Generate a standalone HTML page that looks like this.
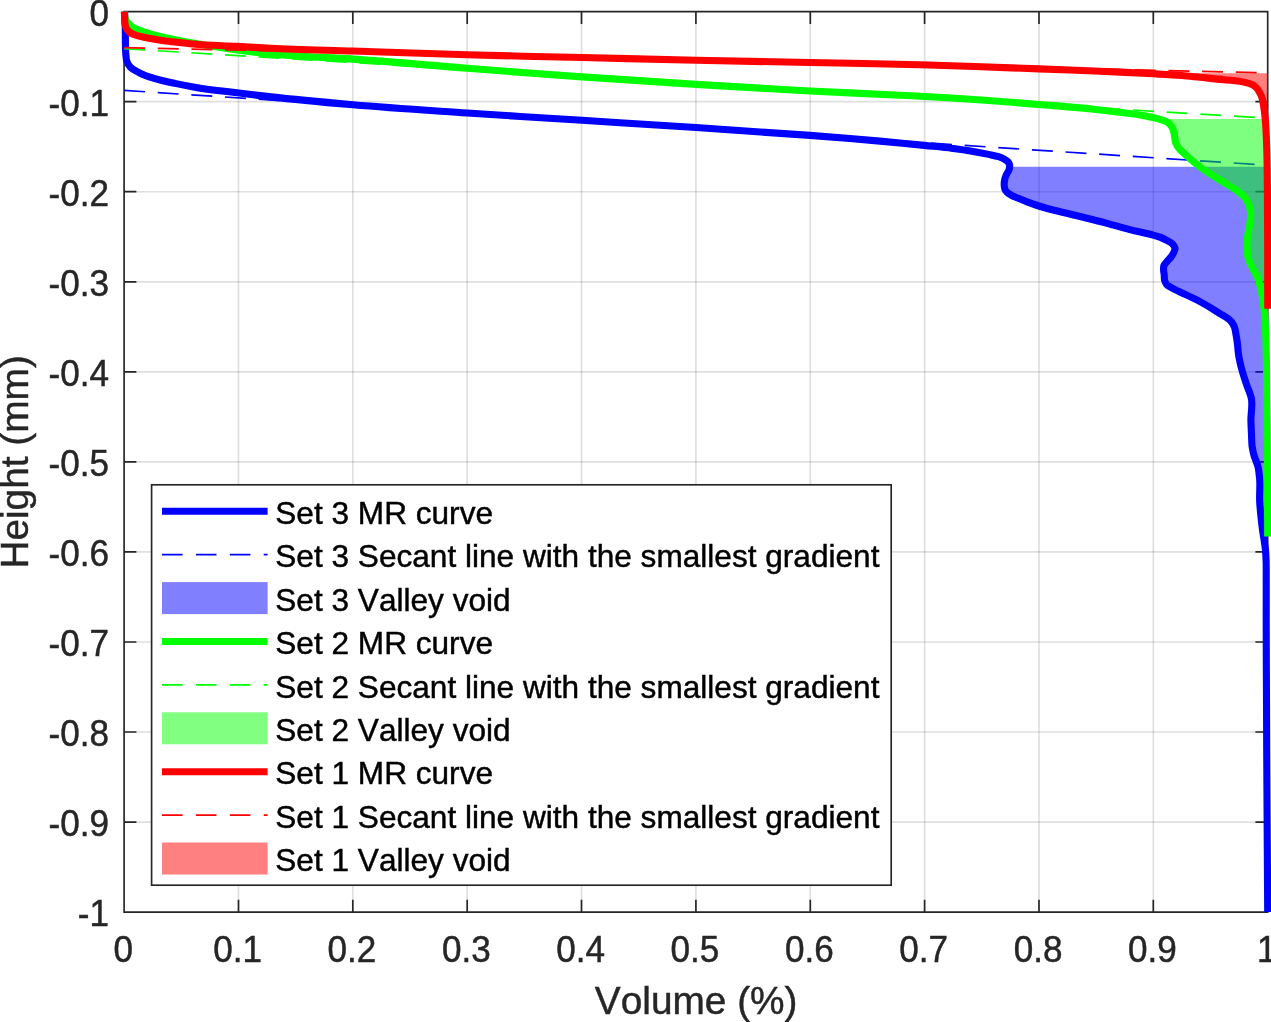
<!DOCTYPE html>
<html lang="en"><head><meta charset="utf-8"><title>MR curves</title>
<style>html,body{margin:0;padding:0;background:#fff}body{width:1271px;height:1022px;overflow:hidden}svg{display:block}text{font-family:"Liberation Sans",Arial,Helvetica,sans-serif;font-kerning:none;font-variant-ligatures:none}.t{font-size:35.1px;fill:#262626;stroke:#262626;stroke-width:.45px}.l{font-size:31.6px;fill:#000;stroke:#000;stroke-width:.45px}.a{font-size:38.8px;fill:#262626;stroke:#262626;stroke-width:.45px}</style></head><body>
<svg width="1271" height="1022" viewBox="0 0 1271 1022">
<rect width="1271" height="1022" fill="#fff"/>
<path d="M238.46 11.65V912.10M352.82 11.65V912.10M467.18 11.65V912.10M581.54 11.65V912.10M695.90 11.65V912.10M810.26 11.65V912.10M924.62 11.65V912.10M1038.98 11.65V912.10M1153.34 11.65V912.10" stroke="#262626" stroke-opacity="0.15" stroke-width="1.67" fill="none"/>
<path d="M124.10 101.70H1267.70M124.10 191.74H1267.70M124.10 281.79H1267.70M124.10 371.83H1267.70M124.10 461.88H1267.70M124.10 551.92H1267.70M124.10 641.97H1267.70M124.10 732.01H1267.70M124.10 822.05H1267.70" stroke="#262626" stroke-opacity="0.15" stroke-width="1.67" fill="none"/>
<path d="M124.1 11.7H1267.7V912.1H124.1ZM238.5 11.7v12.3M238.5 912.1v-12.3M124.1 101.7h12.3M1267.7 101.7h-12.3M352.8 11.7v12.3M352.8 912.1v-12.3M124.1 191.7h12.3M1267.7 191.7h-12.3M467.2 11.7v12.3M467.2 912.1v-12.3M124.1 281.8h12.3M1267.7 281.8h-12.3M581.5 11.7v12.3M581.5 912.1v-12.3M124.1 371.8h12.3M1267.7 371.8h-12.3M695.9 11.7v12.3M695.9 912.1v-12.3M124.1 461.9h12.3M1267.7 461.9h-12.3M810.3 11.7v12.3M810.3 912.1v-12.3M124.1 551.9h12.3M1267.7 551.9h-12.3M924.6 11.7v12.3M924.6 912.1v-12.3M124.1 642.0h12.3M1267.7 642.0h-12.3M1039.0 11.7v12.3M1039.0 912.1v-12.3M124.1 732.0h12.3M1267.7 732.0h-12.3M1153.3 11.7v12.3M1153.3 912.1v-12.3M124.1 822.1h12.3M1267.7 822.1h-12.3" stroke="#262626" stroke-width="1.67" fill="none" stroke-linejoin="miter"/>
<path d="M124.5 11.6C124.7 16.1 125.0 20.5 125.2 25.0C125.4 30.0 125.3 35.0 125.4 40.0C125.5 44.7 125.3 49.4 125.8 54.0C126.1 56.5 126.0 59.2 126.9 61.5C127.7 63.6 129.0 65.7 130.5 67.3C132.8 69.8 136.3 71.2 139.4 72.8C144.3 75.3 149.7 77.0 155.0 78.6C161.5 80.6 168.3 82.0 175.0 83.4C182.0 84.9 189.0 86.2 196.0 87.4C209.6 89.7 223.3 91.1 237.0 92.8C248.3 94.2 259.7 95.6 271.0 96.9C298.3 100.0 325.6 102.4 353.0 104.8C391.0 108.1 429.0 110.4 467.0 113.0C505.3 115.6 543.7 117.9 582.0 120.3C620.0 122.7 658.0 125.0 696.0 127.5C734.0 130.0 772.0 132.5 810.0 135.4C833.3 137.2 856.7 139.0 880.0 141.1C894.8 142.4 909.5 143.9 924.3 145.4C933.7 146.4 943.1 147.2 952.4 148.4C958.4 149.2 964.5 150.0 970.5 151.0C976.6 152.0 982.6 153.1 988.6 154.4C991.9 155.1 995.3 155.6 998.5 156.7C1000.4 157.3 1002.3 158.0 1004.0 159.0C1005.4 159.8 1007.0 160.6 1008.0 161.8C1008.7 162.7 1009.4 163.9 1009.6 165.0C1009.9 166.3 1009.6 167.7 1009.3 169.0C1008.8 171.3 1006.9 173.2 1006.0 175.5C1005.5 176.8 1005.0 178.1 1004.7 179.5C1004.3 181.3 1004.1 183.2 1004.2 185.0C1004.3 186.5 1004.4 188.1 1005.0 189.5C1005.4 190.5 1006.2 191.4 1006.9 192.2C1008.1 193.5 1009.9 194.4 1011.5 195.3C1013.5 196.4 1015.6 197.1 1017.7 198.0C1020.8 199.3 1023.9 200.7 1027.0 201.9C1030.9 203.4 1034.9 204.7 1038.9 206.0C1049.4 209.4 1060.2 211.6 1070.8 214.3C1082.6 217.3 1094.4 220.0 1106.2 223.1C1114.1 225.2 1121.9 227.6 1129.8 229.6C1136.5 231.3 1143.3 232.5 1150.0 234.3C1153.6 235.3 1157.2 236.0 1160.6 237.4C1162.8 238.3 1164.9 239.3 1167.0 240.5C1168.7 241.5 1170.7 242.2 1172.0 243.6C1173.3 244.9 1174.9 246.8 1175.0 248.5C1175.1 249.9 1174.2 251.6 1173.5 253.0C1172.8 254.4 1171.9 255.7 1171.0 257.0C1169.8 258.6 1168.2 259.9 1167.0 261.5C1165.9 262.9 1164.4 264.2 1163.9 265.8C1163.4 267.2 1163.5 268.9 1163.6 270.5C1163.7 271.9 1164.0 273.2 1164.2 274.6C1164.4 276.5 1164.1 278.6 1164.6 280.4C1165.0 281.8 1165.7 283.3 1166.6 284.4C1167.8 285.9 1169.8 286.8 1171.5 287.8C1174.0 289.3 1176.8 290.4 1179.4 291.7C1185.9 294.9 1192.6 297.6 1198.9 301.0C1205.6 304.6 1212.1 308.5 1218.5 312.7C1222.8 315.5 1228.1 317.5 1231.2 321.5C1232.6 323.3 1233.8 325.3 1234.6 327.4C1235.5 329.8 1235.6 332.6 1236.1 335.2C1236.5 337.2 1236.8 339.1 1237.1 341.1C1237.8 345.7 1237.9 350.4 1238.6 355.0C1239.2 358.9 1240.1 362.7 1241.0 366.5C1242.4 372.1 1244.2 377.5 1246.0 383.0C1247.7 388.5 1250.6 393.7 1251.5 399.3C1252.6 406.1 1250.8 413.4 1250.9 420.4C1251.0 425.1 1251.3 429.8 1251.5 434.5C1251.7 438.4 1251.6 442.4 1252.1 446.3C1252.5 449.2 1253.1 452.1 1253.9 455.0C1255.0 459.0 1257.0 462.7 1258.0 466.7C1258.9 470.5 1259.2 474.6 1259.6 478.5C1260.3 486.3 1259.3 494.2 1259.7 502.0C1260.0 506.7 1260.4 511.3 1260.9 516.0C1261.4 521.1 1262.0 526.2 1262.7 531.3C1263.2 534.8 1263.9 538.4 1264.4 541.9C1264.8 545.0 1265.3 548.2 1265.6 551.3C1265.9 554.4 1266.0 557.6 1266.1 560.7C1266.3 565.5 1266.2 570.2 1266.2 575.0C1266.3 590.0 1266.2 605.0 1266.2 620.0C1266.2 646.7 1266.4 673.3 1266.5 700.0C1266.6 733.3 1266.8 766.7 1267.0 800.0C1267.2 837.3 1267.5 874.7 1267.7 912.0" stroke="#0000ff" stroke-width="7.1" fill="none" stroke-linejoin="round" stroke-linecap="butt"/>
<path d="M124.1 90.4L1267.4 165.2" stroke="#0000ff" stroke-width="1.67" stroke-dasharray="20.95 12.745" fill="none"/>
<path d="M1009.5 166.8C1009.4 167.5 1009.4 168.3 1009.3 169.0C1008.9 171.4 1006.9 173.2 1006.0 175.5C1005.5 176.8 1005.0 178.1 1004.7 179.5C1004.3 181.3 1004.1 183.2 1004.2 185.0C1004.3 186.5 1004.4 188.1 1005.0 189.5C1005.4 190.5 1006.2 191.4 1006.9 192.2C1008.1 193.5 1009.9 194.4 1011.5 195.3C1013.5 196.4 1015.6 197.1 1017.7 198.0C1020.8 199.3 1023.9 200.7 1027.0 201.9C1030.9 203.4 1034.9 204.7 1038.9 206.0C1049.4 209.4 1060.2 211.6 1070.8 214.3C1082.6 217.3 1094.4 220.0 1106.2 223.1C1114.1 225.2 1121.9 227.6 1129.8 229.6C1136.5 231.3 1143.3 232.5 1150.0 234.3C1153.6 235.3 1157.2 236.0 1160.6 237.4C1162.8 238.3 1164.9 239.3 1167.0 240.5C1168.7 241.5 1170.7 242.2 1172.0 243.6C1173.3 244.9 1174.9 246.8 1175.0 248.5C1175.1 249.9 1174.2 251.6 1173.5 253.0C1172.8 254.4 1171.9 255.7 1171.0 257.0C1169.8 258.6 1168.2 259.9 1167.0 261.5C1165.9 262.9 1164.4 264.2 1163.9 265.8C1163.4 267.2 1163.5 268.9 1163.6 270.5C1163.7 271.9 1164.0 273.2 1164.2 274.6C1164.4 276.5 1164.1 278.6 1164.6 280.4C1165.0 281.8 1165.7 283.3 1166.6 284.4C1167.8 285.9 1169.8 286.8 1171.5 287.8C1174.0 289.3 1176.8 290.4 1179.4 291.7C1185.9 294.9 1192.6 297.6 1198.9 301.0C1205.6 304.6 1212.1 308.5 1218.5 312.7C1222.8 315.5 1228.1 317.5 1231.2 321.5C1232.6 323.3 1233.8 325.3 1234.6 327.4C1235.5 329.8 1235.6 332.6 1236.1 335.2C1236.5 337.2 1236.8 339.1 1237.1 341.1C1237.8 345.7 1237.9 350.4 1238.6 355.0C1239.2 358.9 1240.1 362.7 1241.0 366.5C1242.4 372.1 1244.2 377.5 1246.0 383.0C1247.7 388.5 1250.6 393.7 1251.5 399.3C1252.6 406.1 1250.8 413.4 1250.9 420.4C1251.0 425.1 1251.3 429.8 1251.5 434.5C1251.7 438.4 1251.6 442.4 1252.1 446.3C1252.5 449.2 1253.1 452.1 1253.9 455.0C1255.0 459.0 1257.0 462.7 1258.0 466.7C1258.9 470.5 1259.2 474.6 1259.6 478.5C1260.3 486.3 1259.3 494.2 1259.7 502.0C1260.0 506.7 1260.4 511.3 1260.9 516.0C1261.4 521.1 1262.0 526.2 1262.7 531.3C1263.2 534.8 1263.9 538.4 1264.4 541.9C1264.8 545.0 1265.3 548.2 1265.6 551.3C1265.9 554.4 1266.0 557.6 1266.1 560.7C1266.3 565.5 1266.2 570.2 1266.2 575.0C1266.3 590.0 1266.2 605.0 1266.2 620.0C1266.2 646.7 1266.4 673.3 1266.5 700.0C1266.6 733.3 1266.8 766.7 1267.0 800.0C1267.2 837.3 1267.5 874.7 1267.7 912.0L1267.7 912.0 L1267.7 166.8 Z" fill="#0000ff" fill-opacity="0.5"/>
<path d="M124.5 11.6C124.6 13.2 124.5 14.9 124.8 16.5C125.1 17.9 125.4 19.3 126.0 20.5C126.6 21.6 127.5 22.5 128.3 23.4C129.1 24.3 130.1 25.1 131.0 25.9C133.8 28.2 137.4 29.5 140.8 30.9C145.3 32.8 150.2 33.9 155.0 35.2C157.7 35.9 160.4 36.7 163.1 37.3C167.0 38.2 171.0 39.0 175.0 39.8C180.9 41.0 186.8 42.1 192.7 43.1C207.4 45.7 222.2 48.0 237.0 50.0C248.3 51.5 259.7 52.9 271.0 54.0C298.2 56.8 325.7 57.2 353.0 59.1C391.0 61.7 429.0 65.2 467.0 68.2C505.3 71.2 543.7 74.2 582.0 76.9C620.0 79.6 658.0 82.0 696.0 84.4C734.0 86.7 772.0 89.0 810.0 91.0C840.0 92.5 870.0 93.7 900.0 95.2C906.7 95.5 913.3 95.8 920.0 96.2C959.7 98.3 999.4 101.2 1039.0 104.5C1059.3 106.2 1079.7 107.6 1100.0 110.0C1117.7 112.1 1135.7 113.1 1153.0 117.5C1156.0 118.3 1159.1 118.9 1162.0 120.0C1164.2 120.8 1166.7 121.5 1168.5 123.0C1170.1 124.3 1171.5 126.1 1172.5 128.0C1173.6 130.2 1173.9 132.8 1174.4 135.2C1175.0 137.9 1174.8 140.8 1175.8 143.3C1176.6 145.4 1178.1 147.3 1179.5 149.0C1180.9 150.7 1182.7 152.1 1184.3 153.6C1186.5 155.6 1188.7 157.6 1191.0 159.6C1193.5 161.8 1196.1 163.9 1198.8 166.0C1203.1 169.3 1207.6 172.3 1212.2 175.3C1216.6 178.2 1221.2 180.7 1225.6 183.5C1229.4 185.9 1233.4 188.0 1236.9 190.7C1239.8 193.0 1243.0 195.2 1245.2 198.2C1246.8 200.4 1248.1 202.9 1249.0 205.5C1249.9 208.1 1250.5 210.9 1250.7 213.7C1250.9 216.4 1250.3 219.2 1250.0 222.0C1249.4 227.0 1248.0 232.0 1247.5 237.0C1247.2 239.6 1247.0 242.1 1247.0 244.7C1247.0 249.7 1247.1 255.0 1248.6 259.7C1249.6 262.9 1251.5 265.9 1253.0 269.0C1254.4 271.9 1256.3 274.6 1257.5 277.5C1259.2 281.5 1260.0 285.8 1261.0 290.0C1261.9 294.0 1262.6 298.0 1263.2 302.0C1264.4 309.6 1264.8 317.3 1265.3 325.0C1265.8 333.3 1266.0 341.7 1266.2 350.0C1266.7 366.7 1266.6 383.3 1266.8 400.0C1267.0 416.7 1267.2 433.3 1267.3 450.0C1267.5 478.9 1267.6 507.7 1267.7 536.6" stroke="#00ff00" stroke-width="7.1" fill="none" stroke-linejoin="round" stroke-linecap="butt"/>
<path d="M124.1 48.7L1267.4 118.2" stroke="#00ff00" stroke-width="1.67" stroke-dasharray="20.95 12.745" fill="none"/>
<path d="M1158.0 118.9C1159.4 119.3 1160.7 119.6 1162.0 120.0C1164.3 120.8 1166.7 121.5 1168.5 123.0C1170.1 124.3 1171.5 126.1 1172.5 128.0C1173.6 130.2 1173.9 132.8 1174.4 135.2C1175.0 137.9 1174.8 140.8 1175.8 143.3C1176.6 145.4 1178.1 147.3 1179.5 149.0C1180.9 150.7 1182.7 152.1 1184.3 153.6C1186.5 155.6 1188.7 157.6 1191.0 159.6C1193.5 161.8 1196.1 163.9 1198.8 166.0C1203.1 169.3 1207.6 172.3 1212.2 175.3C1216.6 178.2 1221.2 180.7 1225.6 183.5C1229.4 185.9 1233.4 188.0 1236.9 190.7C1239.8 193.0 1243.0 195.2 1245.2 198.2C1246.8 200.4 1248.1 202.9 1249.0 205.5C1249.9 208.1 1250.5 210.9 1250.7 213.7C1250.9 216.4 1250.3 219.2 1250.0 222.0C1249.4 227.0 1248.0 232.0 1247.5 237.0C1247.2 239.6 1247.0 242.1 1247.0 244.7C1247.0 249.7 1247.1 255.0 1248.6 259.7C1249.6 262.9 1251.5 265.9 1253.0 269.0C1254.4 271.9 1256.3 274.6 1257.5 277.5C1259.2 281.5 1260.0 285.8 1261.0 290.0C1261.9 294.0 1262.6 298.0 1263.2 302.0C1264.4 309.6 1264.8 317.3 1265.3 325.0C1265.8 333.3 1266.0 341.7 1266.2 350.0C1266.7 366.7 1266.6 383.3 1266.8 400.0C1267.0 416.7 1267.2 433.3 1267.3 450.0C1267.5 478.9 1267.6 507.7 1267.7 536.6L1267.7 536.6 L1267.7 118.9 Z" fill="#00ff00" fill-opacity="0.5"/>
<path d="M124.4 11.6C124.5 14.4 124.5 17.2 124.7 20.0C124.8 21.7 124.8 23.4 125.2 25.0C125.6 26.7 126.2 28.4 127.2 29.8C128.1 31.1 129.4 32.1 130.7 33.0C131.9 33.8 133.3 34.3 134.6 34.8C137.7 36.0 141.0 36.6 144.3 37.3C147.8 38.1 151.4 38.7 155.0 39.3C158.0 39.8 160.9 40.3 163.9 40.7C167.6 41.2 171.3 41.6 175.0 42.0C181.1 42.7 187.1 43.4 193.2 44.0C207.8 45.4 222.4 45.6 237.0 46.4C248.3 47.0 259.7 47.7 271.0 48.3C298.3 49.6 325.7 50.1 353.0 51.0C391.0 52.3 429.0 53.7 467.0 54.8C505.3 55.9 543.7 56.6 582.0 57.5C620.0 58.4 658.0 59.5 696.0 60.3C734.0 61.1 772.0 61.8 810.0 62.5C846.7 63.2 883.3 63.7 920.0 64.7C959.7 65.8 999.3 67.4 1039.0 68.9C1059.3 69.7 1079.7 70.3 1100.0 71.2C1117.7 72.0 1135.3 72.8 1153.0 73.8C1162.7 74.3 1172.4 74.7 1182.0 75.5C1188.0 76.0 1194.0 76.7 1200.0 77.3C1207.8 78.1 1215.7 78.8 1223.5 79.7C1231.3 80.6 1239.4 80.6 1247.0 82.9C1248.8 83.4 1250.7 83.8 1252.3 84.7C1253.6 85.4 1254.9 86.3 1256.0 87.3C1257.2 88.5 1258.1 90.0 1259.0 91.5C1259.9 93.0 1260.8 94.5 1261.4 96.1C1262.4 98.6 1262.8 101.3 1263.3 104.0C1263.9 107.2 1264.3 110.5 1264.7 113.7C1265.3 119.1 1265.7 124.6 1266.0 130.0C1266.4 136.7 1266.6 143.3 1266.8 150.0C1267.2 163.3 1267.3 176.7 1267.4 190.0C1267.6 210.0 1267.7 230.0 1267.7 250.0C1267.7 269.6 1267.7 289.2 1267.7 308.8" stroke="#ff0000" stroke-width="7.1" fill="none" stroke-linejoin="round" stroke-linecap="butt"/>
<path d="M124.1 47.6L1267.4 72.8" stroke="#ff0000" stroke-width="1.67" stroke-dasharray="20.95 12.745" fill="none"/>
<path d="M1142.8 73.3C1146.2 73.5 1149.6 73.6 1153.0 73.8C1162.7 74.3 1172.4 74.7 1182.0 75.5C1188.0 76.0 1194.0 76.7 1200.0 77.3C1207.8 78.1 1215.7 78.8 1223.5 79.7C1231.3 80.6 1239.4 80.6 1247.0 82.9C1248.8 83.4 1250.7 83.8 1252.3 84.7C1253.6 85.4 1254.9 86.3 1256.0 87.3C1257.2 88.5 1258.1 90.0 1259.0 91.5C1259.9 93.0 1260.8 94.5 1261.4 96.1C1262.4 98.6 1262.8 101.3 1263.3 104.0C1263.9 107.2 1264.3 110.5 1264.7 113.7C1265.3 119.1 1265.7 124.6 1266.0 130.0C1266.4 136.7 1266.6 143.3 1266.8 150.0C1267.2 163.3 1267.3 176.7 1267.4 190.0C1267.6 210.0 1267.7 230.0 1267.7 250.0C1267.7 269.6 1267.7 289.2 1267.7 308.8L1267.7 308.8 L1267.7 73.3 Z" fill="#ff0000" fill-opacity="0.5"/>
<text class="t" transform="translate(123.2 962.0) scale(1 1.03)" text-anchor="middle">0</text>
<text class="t" transform="translate(237.6 962.0) scale(1 1.03)" text-anchor="middle">0.1</text>
<text class="t" transform="translate(351.9 962.0) scale(1 1.03)" text-anchor="middle">0.2</text>
<text class="t" transform="translate(466.3 962.0) scale(1 1.03)" text-anchor="middle">0.3</text>
<text class="t" transform="translate(580.6 962.0) scale(1 1.03)" text-anchor="middle">0.4</text>
<text class="t" transform="translate(695.0 962.0) scale(1 1.03)" text-anchor="middle">0.5</text>
<text class="t" transform="translate(809.4 962.0) scale(1 1.03)" text-anchor="middle">0.6</text>
<text class="t" transform="translate(923.7 962.0) scale(1 1.03)" text-anchor="middle">0.7</text>
<text class="t" transform="translate(1038.1 962.0) scale(1 1.03)" text-anchor="middle">0.8</text>
<text class="t" transform="translate(1152.4 962.0) scale(1 1.03)" text-anchor="middle">0.9</text>
<text class="t" transform="translate(1266.8 962.0) scale(1 1.03)" text-anchor="middle">1</text>
<text class="t" transform="translate(109.0 25.6) scale(1 1.03)" text-anchor="end">0</text>
<text class="t" transform="translate(109.0 115.6) scale(1 1.03)" text-anchor="end">-0.1</text>
<text class="t" transform="translate(109.0 205.6) scale(1 1.03)" text-anchor="end">-0.2</text>
<text class="t" transform="translate(109.0 295.7) scale(1 1.03)" text-anchor="end">-0.3</text>
<text class="t" transform="translate(109.0 385.7) scale(1 1.03)" text-anchor="end">-0.4</text>
<text class="t" transform="translate(109.0 475.8) scale(1 1.03)" text-anchor="end">-0.5</text>
<text class="t" transform="translate(109.0 565.8) scale(1 1.03)" text-anchor="end">-0.6</text>
<text class="t" transform="translate(109.0 655.9) scale(1 1.03)" text-anchor="end">-0.7</text>
<text class="t" transform="translate(109.0 745.9) scale(1 1.03)" text-anchor="end">-0.8</text>
<text class="t" transform="translate(109.0 836.0) scale(1 1.03)" text-anchor="end">-0.9</text>
<text class="t" transform="translate(109.0 926.0) scale(1 1.03)" text-anchor="end">-1</text>
<text class="a" x="696.2" y="1014.1" text-anchor="middle">Volume (%)</text>
<text class="a" transform="translate(28.0 461.9) rotate(-90)" text-anchor="middle">Height (mm)</text>
<rect x="151.6" y="484.8" width="739.6" height="400.4" fill="#fff" stroke="#262626" stroke-width="1.67"/>
<path d="M162.0 511.3H267.6" stroke="#0000ff" stroke-width="7.1"/>
<text class="l" x="275.3" y="523.9">Set 3 MR curve</text>
<path d="M162.0 554.7H267.6" stroke="#0000ff" stroke-width="1.67" stroke-dasharray="20.6 13.3"/>
<text class="l" x="275.3" y="567.3">Set 3 Secant line with the smallest gradient</text>
<rect x="162.0" y="582.1" width="105.6" height="32.0" fill="#8080ff"/>
<text class="l" x="275.3" y="610.7">Set 3 Valley void</text>
<path d="M162.0 641.5H267.6" stroke="#00ff00" stroke-width="7.1"/>
<text class="l" x="275.3" y="654.1">Set 2 MR curve</text>
<path d="M162.0 684.9H267.6" stroke="#00ff00" stroke-width="1.67" stroke-dasharray="20.6 13.3"/>
<text class="l" x="275.3" y="697.5">Set 2 Secant line with the smallest gradient</text>
<rect x="162.0" y="712.3" width="105.6" height="32.0" fill="#80ff80"/>
<text class="l" x="275.3" y="740.9">Set 2 Valley void</text>
<path d="M162.0 771.7H267.6" stroke="#ff0000" stroke-width="7.1"/>
<text class="l" x="275.3" y="784.3">Set 1 MR curve</text>
<path d="M162.0 815.1H267.6" stroke="#ff0000" stroke-width="1.67" stroke-dasharray="20.6 13.3"/>
<text class="l" x="275.3" y="827.7">Set 1 Secant line with the smallest gradient</text>
<rect x="162.0" y="842.5" width="105.6" height="32.0" fill="#ff8080"/>
<text class="l" x="275.3" y="871.1">Set 1 Valley void</text>
</svg></body></html>
